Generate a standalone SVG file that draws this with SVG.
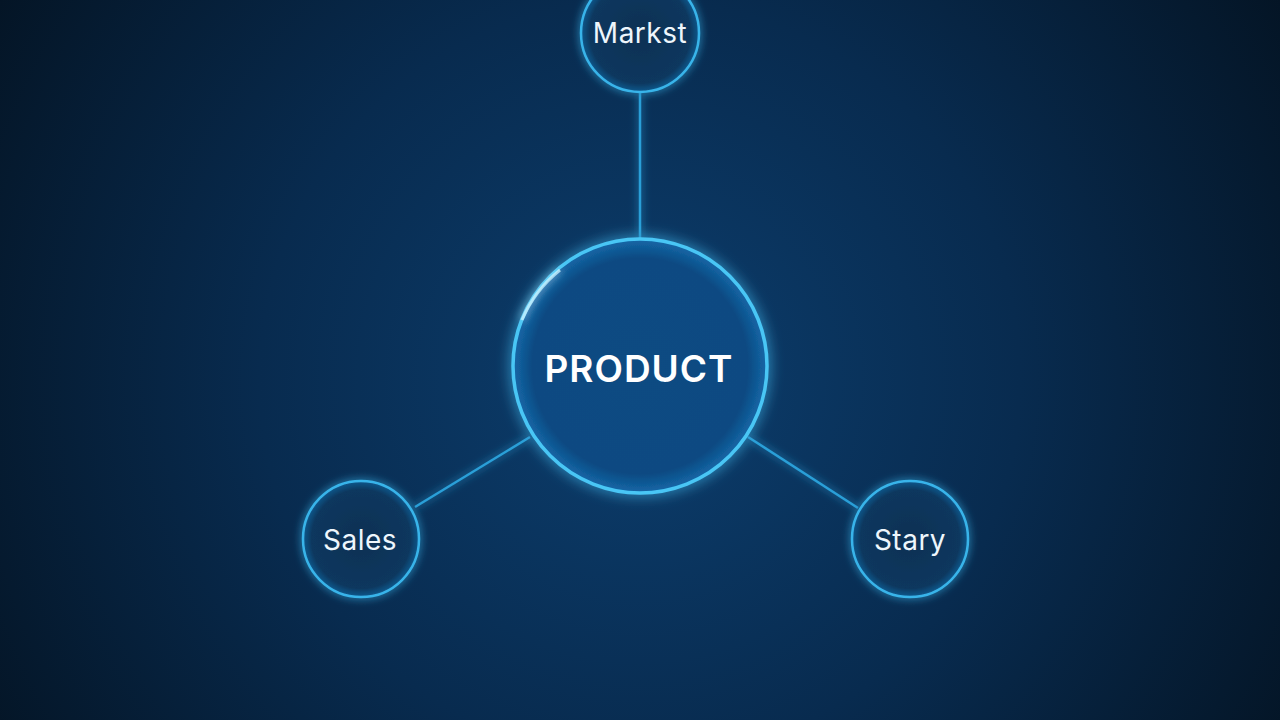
<svg xmlns="http://www.w3.org/2000/svg" width="1280" height="720" viewBox="0 0 1280 720">
<defs>
<radialGradient id="bg" cx="640" cy="380" r="760" gradientUnits="userSpaceOnUse">
<stop offset="0" stop-color="#0c3e6e"/>
<stop offset="0.5" stop-color="#082b4f"/>
<stop offset="1" stop-color="#041424"/>
</radialGradient>
<radialGradient id="core" cx="0.5" cy="0.5" r="0.5">
<stop offset="0" stop-color="#0e4b82"/>
<stop offset="0.85" stop-color="#0d4a82"/>
<stop offset="1" stop-color="#1468a8"/>
</radialGradient>
<radialGradient id="small" cx="0.5" cy="0.5" r="0.5">
<stop offset="0" stop-color="#0a3154"/>
<stop offset="0.85" stop-color="#0b375e"/>
<stop offset="1" stop-color="#135a8e"/>
</radialGradient>
<filter id="glow" x="-30%" y="-30%" width="160%" height="160%">
<feGaussianBlur in="SourceGraphic" stdDeviation="4" result="b"/>
<feMerge><feMergeNode in="b"/><feMergeNode in="SourceGraphic"/></feMerge>
</filter>
<filter id="glow2" x="-30%" y="-30%" width="160%" height="160%">
<feGaussianBlur in="SourceGraphic" stdDeviation="7" result="b"/>
<feMerge><feMergeNode in="b"/><feMergeNode in="SourceGraphic"/></feMerge>
</filter>
</defs>
<style>
.edge{stroke:#2a9fd8;stroke-width:2.5;fill:none}
.ring{fill:url(#small);stroke:#39b4ea;stroke-width:2.5}
.big{fill:url(#core);stroke:#49c6f5;stroke-width:3.5}
.lbl{font-family:Inter,"Liberation Sans",sans-serif;fill:#eef6fc;font-size:28px;letter-spacing:0.5px;text-anchor:middle;dominant-baseline:central}
.main{font-family:Inter,"Liberation Sans",sans-serif;fill:#ffffff;font-size:37px;font-weight:600;letter-spacing:1px;text-anchor:middle;dominant-baseline:central}
</style>
<rect width="1280" height="720" fill="url(#bg)"/>
<g id="connectors" filter="url(#glow)">
<line class="edge" x1="640" y1="93" x2="640" y2="240"/>
<line class="edge" x1="415" y1="507" x2="530" y2="437"/>
<line class="edge" x1="748" y1="437" x2="858" y2="508"/>
</g>
<g id="product">
<circle class="big" cx="640" cy="366" r="127" filter="url(#glow2)"/>
<path d="M 522 320 A 127 127 0 0 1 560 270" stroke="#cdf3ff" stroke-width="3" fill="none" opacity="0.8" filter="url(#glow)"/>
<text class="main" x="639" y="368">PRODUCT</text>
</g>
<g id="market">
<circle class="ring" cx="640" cy="33" r="59" filter="url(#glow)"/>
<text class="lbl" x="640" y="33">Markst</text>
</g>
<g id="sales">
<circle class="ring" cx="361" cy="539" r="58" filter="url(#glow)"/>
<text class="lbl" x="360" y="540">Sales</text>
</g>
<g id="stary">
<circle class="ring" cx="910" cy="539" r="58" filter="url(#glow)"/>
<text class="lbl" x="910" y="540">Stary</text>
</g>
</svg>
